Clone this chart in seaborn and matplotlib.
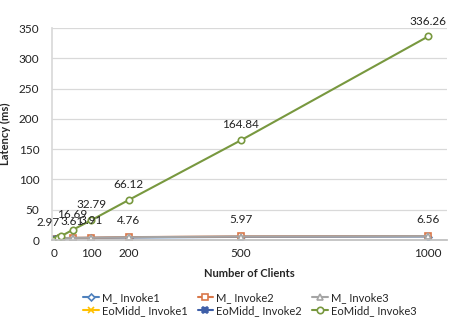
import matplotlib
matplotlib.use("Agg")
import matplotlib.pyplot as plt
import seaborn as sns
import numpy as np

# Client counts and latency (ms) per configuration
clients = [1, 10, 20, 50, 100, 200, 500, 1000]
m_invoke1 = [1.2, 2.0, 2.4, 3.1, 3.4, 4.1, 5.2, 5.8]
m_invoke2 = [1.4, 2.3, 3.0, 3.61, 3.91, 4.76, 5.97, 6.56]
m_invoke3 = [1.3, 2.2, 2.9, 3.5, 3.8, 4.6, 5.8, 6.4]
eo_clients = [1, 10]
eo_invoke1 = [0.8, 1.6]
eo_invoke2 = [0.9, 1.8]
eo_invoke3 = [0.5, 2.97, 6.6, 16.69, 32.79, 66.12, 164.84, 336.26]

x_tick_labels = [0, 100, 200, 500, 1000]
y_ticks = [0, 50, 100, 150, 200, 250, 300, 350]

# Which points carry a value label
m2_labelled = [50, 100, 200, 500, 1000]
eo3_labelled = [10, 50, 100, 200, 500, 1000]

sns.set_theme(style="white")
plt.rcParams["font.family"] = ["Lato", "DejaVu Sans"]

fig = plt.figure(figsize=(4.74, 3.27), dpi=100)
ax = fig.add_axes([0.1097, 0.266, 0.833, 0.648])

series = [
    ("M_ Invoke1", clients, m_invoke1, "#4F81BD", "D", True, 3.5),
    ("M_ Invoke2", clients, m_invoke2, "#D9784A", "s", True, 4.2),
    ("M_ Invoke3", clients, m_invoke3, "#A5A5A5", "^", True, 4),
    ("EoMidd_ Invoke1", eo_clients, eo_invoke1, "#FFC000", "x", False, 4.5),
    ("EoMidd_ Invoke2", eo_clients, eo_invoke2, "#3F5FA8", "X", False, 4.5),
    ("EoMidd_ Invoke3", clients, eo_invoke3, "#78983F", "o", True, 4.6),
]

for name, xs, ys, col, mk, hollow, ms in series:
    kw = dict(markerfacecolor="white", markeredgecolor=col, markeredgewidth=1.2) if hollow \
        else dict(markeredgecolor=col, markerfacecolor=col, markeredgewidth=1.2)
    sns.lineplot(x=xs, y=ys, ax=ax, color=col, marker=mk, markersize=ms,
                 linewidth=1.5, label=name, **kw)

# Value labels
for xv, yv in zip(clients, m_invoke2):
    if xv in m2_labelled:
        ax.annotate(f"{yv:.2f}", (xv, yv), xytext=(0, 12), textcoords="offset points",
                    ha="center", va="center", fontsize=8.5, color="#222222")
for xv, yv in zip(clients, eo_invoke3):
    if xv in eo3_labelled:
        dx = -7 if xv == 10 else 0
        ax.annotate(f"{yv:.2f}", (xv, yv), xytext=(dx, 11), textcoords="offset points",
                    ha="center", va="center", fontsize=8.5, color="#222222")

ax.set_xlim(-5, 1050)
ax.set_ylim(0, 350)
ax.set_yticks(y_ticks)
ax.set_xticks(x_tick_labels)
ax.set_xticklabels([str(v) for v in x_tick_labels])
ax.set_xticks(np.arange(0, 1001, 200), minor=True)
ax.tick_params(axis="x", which="major", length=0, labelsize=8.5, pad=6, colors="#222222")
ax.tick_params(axis="x", which="minor", length=4, width=0.8, color="#BFBFBF", direction="out")
ax.tick_params(axis="y", which="major", length=0, labelsize=8.5, pad=9, colors="#222222")
ax.grid(axis="y", color="#D9D9D9", linewidth=0.9)
ax.set_axisbelow(True)
for s in ["top", "right"]:
    ax.spines[s].set_visible(False)
ax.spines["left"].set_color("#D9D9D9")
ax.spines["bottom"].set_color("#BFBFBF")

ax.set_xlabel("Number of Clients", fontsize=8, fontweight="bold", labelpad=6)
ax.set_ylabel("Latency (ms)", fontsize=8, fontweight="bold")
ax.yaxis.set_label_coords(-0.105, 0.5)

# Legend rows: M_ series on top, EoMidd_ series below
handles, labels = ax.get_legend_handles_labels()
ax.get_legend().remove()
order = [0, 3, 1, 4, 2, 5]
fig.legend([handles[i] for i in order], [labels[i] for i in order],
           loc="upper center", bbox_to_anchor=(0.527, 0.128), ncol=3, frameon=False,
           fontsize=8, handlelength=1.4, columnspacing=0.9, handletextpad=0.3,
           labelspacing=0.2, borderpad=0.1)

fig.savefig("out.png", dpi=100)
